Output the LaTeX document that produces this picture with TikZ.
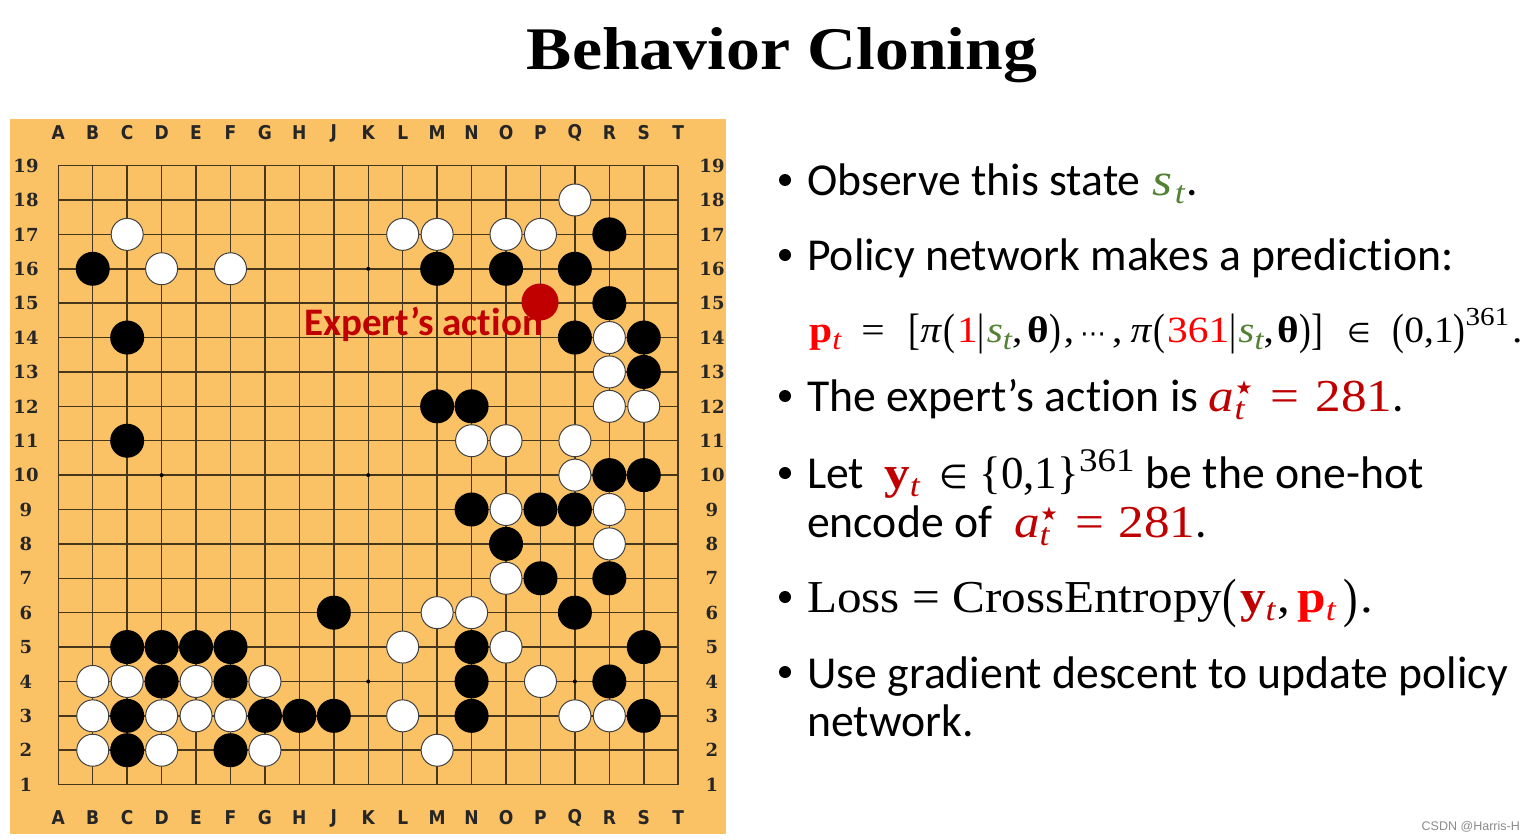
\documentclass[tikz,border=0pt]{standalone}
\usepackage{fontspec}
\setmainfont{Carlito}[Ligatures=NoCommon]
\newfontfamily\cam[FakeStretch=1.12]{Liberation Serif}
\newfontfamily\symf{DejaVu Sans}
\newfontfamily\letf{DejaVu Sans Condensed}
\newfontfamily\numf{DejaVu Serif}
\newfontfamily\wmf{Liberation Sans}
\definecolor{board}{HTML}{FBC265}
\definecolor{dred}{HTML}{C00000}
\definecolor{lred}{HTML}{FF0000}
\definecolor{sgreen}{HTML}{548235}
\newcommand\fs[1]{\fontsize{#1}{#1}\selectfont}
\newcommand\mi[2]{{\color{#1}\cam\itshape #2}}
\newcommand\mr[2]{{\color{#1}\cam #2}}
\newcommand\mb[2]{{\color{#1}\cam\bfseries #2}}
\newcommand\subt[1]{\raisebox{-8pt}{\fs{32}\mi{#1}{t}}}
\newcommand\subts[1]{\raisebox{-7pt}{\fs{29}\mi{#1}{t}}}
\newcommand\astar[1]{\mi{#1}{a}\rlap{\raisebox{-8pt}{\fs{32}\mi{#1}{t}}}\hspace{1pt}\raisebox{17pt}{\fs{19}\color{#1}\symf ★}}
\newcommand\bigp[1]{\raisebox{-2pt}{\scalebox{0.72}[1]{\fs{44}\mr{black}{#1}}}}
\newcommand\hugep[1]{\raisebox{-4pt}{\scalebox{0.72}[1]{\fs{54}\mr{black}{#1}}}}
\newcommand\kk{\hspace{2pt}}
\tikzset{
  gridline/.style={draw=black!72!board,line width=1.5pt},
  wstone/.style={circle,draw=black!75,fill=white,line width=1pt,minimum size=32pt,inner sep=0},
  bstone/.style={circle,fill=black,minimum size=34pt,inner sep=0},
  star/.style={circle,fill=black,minimum size=4pt,inner sep=0},
  collabel/.style={font=\letf\bfseries\fs{19},text=black!85,inner sep=0,anchor=center},
  rowlabel/.style={font=\numf\bfseries\fs{18},text=black!85,inner sep=0,anchor=center},
  txt/.style={anchor=base west,inner sep=0,font=\fs{45.7}},
  bullet/.style={anchor=center,circle,fill=black,minimum size=12pt,inner sep=0}
}
\begin{document}
\begin{tikzpicture}[x=1pt,y=-1pt]
\useasboundingbox (0,0) rectangle (1534,840);
\fill[white] (0,0) rectangle (1534,840);
\node[anchor=base,inner sep=0,font=\cam\bfseries\fs{60.5}] (title) at (782,70) {Behavior Cloning};
\fill[board] (10,119) rectangle (726,834);
\foreach \c/\i in {A/0,B/1,C/2,D/3,E/4,F/5,G/6,H/7,J/8,K/9,L/10,M/11,N/12,O/13,P/14,Q/15,R/16,S/17,T/18}{
  \foreach \r in {1,...,19}{
    \coordinate (\c\r) at ({58.3+34.44*\i},{165.6+34.39*(19-\r)});
  }
  \draw[gridline] (\c19) -- (\c1);
  \node[collabel] (top\c) at ({58.3+34.44*\i},133) {\c};
  \node[collabel] (bot\c) at ({58.3+34.44*\i},818) {\c};
}
\foreach \r in {1,...,19}{
  \draw[gridline] (A\r) -- (T\r);
  \node[rowlabel] (lft\r) at ({26},{165.6+34.39*(19-\r)}) {\r};
  \node[rowlabel] (rgt\r) at ({712},{165.6+34.39*(19-\r)}) {\r};
}
\foreach \p in {K16,D10,K10,K4,Q4}{\node[star] (s\p) at (\p) {};}
\foreach \p in {Q18,C17,L17,M17,O17,P17,D16,F16,R14,R13,R12,S12,N11,O11,Q11,Q10,O9,R9,R8,O7,M6,N6,L5,O5,B4,C4,E4,G4,P4,B3,D3,E3,F3,L3,Q3,R3,B2,D2,G2,M2}{
  \node[wstone] (w\p) at (\p) {};
}
\foreach \p in {R17,B16,M16,O16,Q16,R15,C14,Q14,S14,S13,M12,N12,C11,R10,S10,N9,P9,Q9,O8,P7,R7,J6,Q6,C5,D5,E5,F5,N5,S5,D4,F4,N4,R4,C3,G3,H3,J3,N3,S3,C2,F2}{
  \node[bstone] (b\p) at (\p) {};
}
\node[circle,fill=dred,minimum size=37pt,inner sep=0] (expert) at (540,302) {};
\node[anchor=base west,inner sep=0,text=dred,font=\bfseries\fs{39}] (expertlabel) at (304,335) {Expert’s action};

\foreach \n/\y in {1/180,2/255,3/396,4/473,5/597,6/672}{\node[bullet] (bul\n) at (785,\y) {};}
\node[txt] (l1) at (807,195) {Observe this state \kk\mi{sgreen}{s}\kk\subt{sgreen}\kk.};
\node[txt] (l2) at (807,270) {Policy network makes a prediction:};
\node[txt,font=\fs{37}] (l3) at (809,342) {\mb{lred}{p}\subts{lred}\hspace{20pt}\mr{black}{=}\hspace{24pt}\bigp{[}\mi{black}{π}\kk\bigp{(}\kk\mr{lred}{1}\bigp{|}\kk\mi{sgreen}{s}\subts{sgreen}\mr{black}{,}\hspace{5pt}\mb{black}{θ}\bigp{)}\hspace{3pt}\mr{black}{,}\hspace{6pt}{\symf\fs{26}⋯}\hspace{6pt}\mr{black}{,}\hspace{8pt}\mi{black}{π}\kk\bigp{(}\kk\mr{lred}{361}\bigp{|}\kk\mi{sgreen}{s}\subts{sgreen}\mr{black}{,}\hspace{4pt}\mb{black}{θ}\bigp{)}\bigp{]}\hspace{24pt}{\symf\fs{27}∈}\hspace{22pt}\bigp{(}\scalebox{0.95}[1]{\mr{black}{0,1}}\bigp{)}\raisebox{17pt}{\fs{26}\mr{black}{361}}\hspace{3pt}\mr{black}{.}};
\node[txt] (l4) at (807,411) {The expert’s action is \astar{dred}\hspace{18pt}\mr{dred}{=}\hspace{16pt}\mr{dred}{281}.};
\node[txt] (l5) at (807,488) {Let\hspace{20pt}\mb{dred}{y}\subt{dred}\hspace{20pt}{\symf\fs{33}∈}\hspace{11pt}\scalebox{0.88}[1]{\mr{black}{\{0,1\}}}\raisebox{17pt}{\fs{33}\mr{black}{361}}\hspace{1pt} be the one-hot};
\node[txt] (l6) at (807,537) {encode of\hspace{22pt}\astar{dred}\hspace{18pt}\mr{dred}{=}\hspace{14pt}\mr{dred}{281}.};
\node[txt] (l7) at (807,612) {\scalebox{0.96}[1]{\mr{black}{Loss = CrossEntropy}}\hugep{(}\hspace{3pt}\mb{dred}{y}\subt{dred}\kk\mr{black}{,}\hspace{7pt}\mb{lred}{p}\subt{lred}\hspace{8pt}\hugep{)}\kk\mr{black}{.}};
\node[txt] (l8) at (807,688) {Use gradient descent to update policy};
\node[txt] (l9) at (807,736) {network.};
\node[anchor=base east,inner sep=0,text=black!45,font=\wmf\fs{12.5}] (mark) at (1520,830) {CSDN @Harris-H};
\end{tikzpicture}
\end{document}
